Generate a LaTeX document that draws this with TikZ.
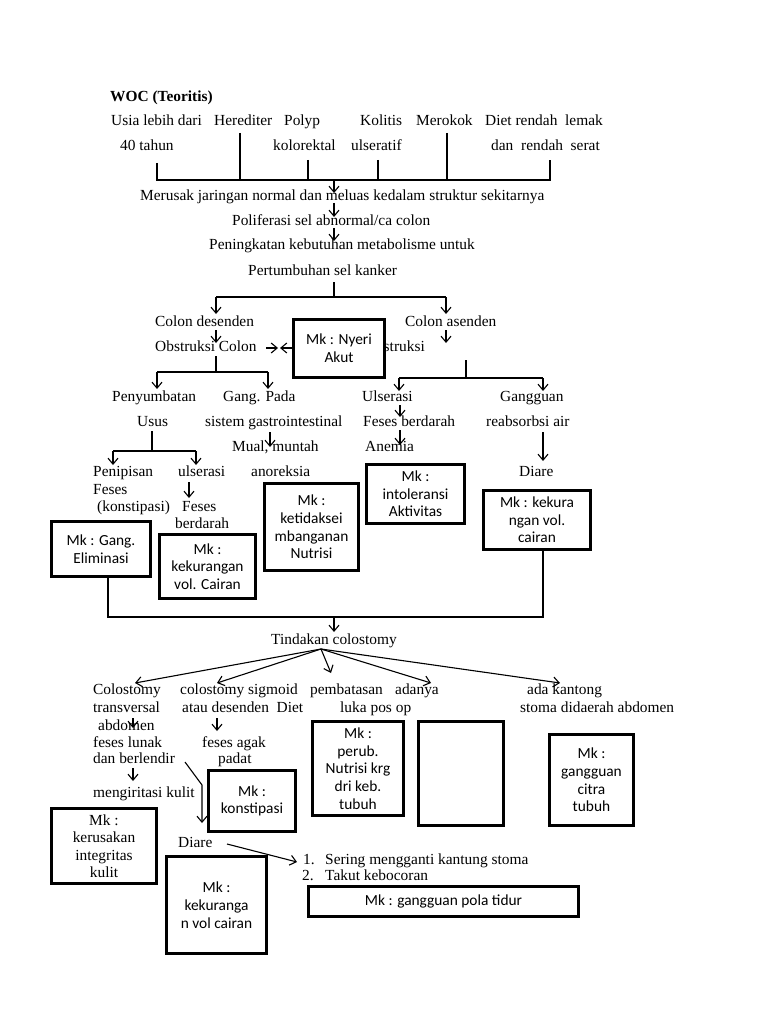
\documentclass[tikz,border=0pt]{standalone}
\usepackage{fontspec}
\setmainfont{Liberation Serif}
\newfontfamily\calib{Carlito}
\usetikzlibrary{arrows.meta}
\begin{document}
\begin{tikzpicture}[x=1pt,y=-1pt,
  t/.style={anchor=base west, inner sep=0pt, font=\fontsize{15.4}{17.5}\selectfont},
  tr/.style={anchor=base east, inner sep=0pt, font=\fontsize{15.4}{17.5}\selectfont},
  mk/.style={draw, line width=3pt, fill=white, align=center, inner sep=0pt, font=\calib\fontsize{15.4}{17.7}\selectfont},
  mks/.style={mk, font=\fontsize{15.4}{17.5}\selectfont},
  ln/.style={line width=1.1pt},
  ar/.style={line width=1.1pt, -{Straight Barb[length=6pt,width=10pt]}},
]
\useasboundingbox (0,0) rectangle (768,1024);
\fill[white] (0,0) rectangle (768,1024);

% ---------- texts ----------
\node[t, font=\bfseries\fontsize{15.4}{17.5}\selectfont] (title) at (110,101.5) {WOC (Teoritis)};
\node[t] (usia) at (111,125.5) {Usia lebih dari};
\node[t] (hered) at (214,125.5) {Herediter};
\node[t] (polyp) at (284,125.5) {Polyp};
\node[t] (kolitis) at (360,125.5) {Kolitis};
\node[t] (merokok) at (416,125.5) {Merokok};
\node[t] (diet) at (485,125.5) {Diet rendah\ \ lemak};
\node[t] (tahun) at (120,150.5) {40 tahun};
\node[t] (kolor) at (273,150.5) {kolorektal};
\node[t] (ulser) at (351,150.5) {ulseratif};
\node[t] (serat) at (491,150.5) {dan\ \ rendah\ \ serat};

\node[t] (merusak) at (140,200.5) {Merusak jaringan normal dan meluas kedalam struktur sekitarnya};
\node[t] (polif) at (232,225.5) {Poliferasi sel abnormal/ca colon};
\node[t] (pening) at (209,249.5) {Peningkatan kebutuhan metabolisme untuk};
\node[t] (pertum) at (248,275.5) {Pertumbuhan sel kanker};

\node[t] (cdes) at (155,326.5) {Colon desenden};
\node[t] (obsc) at (155,351.5) {Obstruksi Colon};
\node[tr] (obsr) at (425,351.5) {Obstruksi};
\node[t] (cas) at (405,326.5) {Colon asenden};

\node[t] (penyum) at (112,401.5) {Penyumbatan};
\node[t] (gang) at (223,401.5) {Gang. Pada};
\node[t] (ulsr) at (362,401.5) {Ulserasi};
\node[t] (ggg) at (500,401.5) {Gangguan};
\node[t] (usus) at (137,426.5) {Usus};
\node[t] (sistem) at (205,426.5) {sistem gastrointestinal};
\node[t] (fberd) at (363,426.5) {Feses berdarah};
\node[t] (reab) at (486,426.5) {reabsorbsi air};
\node[t] (mual) at (232,451.5) {Mual, muntah};
\node[t] (anemia) at (365,451.5) {Anemia};
\node[t] (penip) at (93,476.5) {Penipisan};
\node[t] (ulsr2) at (178,476.5) {ulserasi};
\node[t] (anor) at (251,476.5) {anoreksia};
\node[t] (diare1) at (519,476.5) {Diare};
\node[t] (feses1) at (93,494.5) {Feses};
\node[t] (konst) at (97,511.5) {(konstipasi)};
\node[t] (feses2) at (182,511.5) {Feses};
\node[t] (berd) at (175,528) {berdarah};

\node[t] (tind) at (271,644.5) {Tindakan colostomy};
\node[t] (colo1) at (93,694.5) {Colostomy};
\node[t] (colo2) at (180,694.5) {colostomy sigmoid};
\node[t] (pemb) at (310,694.5) {pembatasan};
\node[t] (adanya) at (395,694.5) {adanya};
\node[t] (kant) at (527,694.5) {ada kantong};
\node[t] (trans) at (93,712.5) {transversal};
\node[t] (atau) at (182,712.5) {atau desenden\ \ Diet};
\node[t] (luka) at (340,712.5) {luka pos op};
\node[t] (stoma) at (520,712.5) {stoma didaerah abdomen};
\node[t] (abdo) at (98,730.5) {abdomen};
\node[t] (flunak) at (93,747) {feses lunak};
\node[t] (berl) at (93,763.5) {dan berlendir};
\node[t] (fagak) at (202,747) {feses agak};
\node[t] (padat) at (218,763.5) {padat};
\node[t] (mengi) at (93,797) {mengiritasi kulit};
\node[t] (diare2) at (178,847.5) {Diare};
\node[t] (n1) at (303,864.5) {1.};
\node[t] (sering) at (325,864.5) {Sering mengganti kantung stoma};
\node[t] (n2) at (302,880.5) {2.};
\node[t] (takut) at (325,880.5) {Takut kebocoran};

% ---------- boxes ----------
\node[mk, minimum width=91pt, minimum height=58pt] (nyeri) at (339,348.5) {Mk : Nyeri\\Akut};
\node[mk, minimum width=99pt, minimum height=55pt] (elim) at (101,549) {Mk : Gang.\\Eliminasi};
\node[mk, minimum width=96pt, minimum height=64pt] (kek1) at (207.5,566.5) {Mk :\\kekurangan\\vol. Cairan};
\node[mk, minimum width=94pt, minimum height=87pt] (nutr) at (311.5,527) {Mk :\\ketidaksei\\mbanganan\\Nutrisi};
\node[mk, minimum width=98pt, minimum height=59pt] (intol) at (415.5,494) {Mk :\\intoleransi\\Aktivitas};
\node[mk, minimum width=107pt, minimum height=59pt] (kek2) at (537,520) {Mk : kekura\\ngan vol.\\cairan};
\node[mks, minimum width=105pt, minimum height=75pt] (rusak) at (104,846) {Mk :\\kerusakan\\integritas\\kulit};
\node[mk, minimum width=87pt, minimum height=61pt] (konsti) at (252,801) {Mk :\\konstipasi};
\node[mk, minimum width=91pt, minimum height=94pt] (perub) at (358,768.5) {Mk :\\perub.\\Nutrisi krg\\dri keb.\\tubuh};
\node[mk, minimum width=85pt, minimum height=104pt] (empty) at (461,773.5) {};
\node[mk, minimum width=84pt, minimum height=91pt] (citra) at (591.5,780) {Mk :\\gangguan\\citra\\tubuh};
\node[mk, minimum width=100pt, minimum height=97pt] (kek3) at (216.5,905) {Mk :\\kekuranga\\n vol cairan};
\node[mk, minimum width=270pt, minimum height=30pt] (pola) at (443.5,901.5) {Mk : gangguan pola tidur};

% ---------- coordinates ----------
\coordinate (c1) at (157,163); \coordinate (c2) at (240,133);
\coordinate (c3) at (308,160); \coordinate (c4) at (378,160);
\coordinate (c5) at (447,133); \coordinate (c6) at (550,160);
\coordinate (b1) at (157,180); \coordinate (b6) at (550,180);
\coordinate (m0) at (334,180); \coordinate (m1) at (334,193);
\coordinate (m2) at (334,203); \coordinate (m3) at (334,217);
\coordinate (m4) at (334,228); \coordinate (m5) at (334,241);
\coordinate (p0) at (334,282); \coordinate (p1) at (334,297);
\coordinate (pl) at (216,297); \coordinate (pr) at (446,297);
\coordinate (pld) at (216,314); \coordinate (prd) at (446,314);
\coordinate (d0) at (216,330); \coordinate (d1) at (216,343);
\coordinate (d2) at (216,356); \coordinate (d3) at (216,372);
\coordinate (dl) at (157,372); \coordinate (dr) at (268,372);
\coordinate (dld) at (157,389); \coordinate (drd) at (268,389);
\coordinate (ra0) at (266,348); \coordinate (ra1) at (278,348);
\coordinate (la0) at (292,348); \coordinate (la1) at (280,348);
\coordinate (e0) at (446,330); \coordinate (e1) at (446,343);
\coordinate (e2) at (466,360); \coordinate (e3) at (466,378);
\coordinate (el) at (399,378); \coordinate (er) at (543,378);
\coordinate (eld) at (399,391); \coordinate (erd) at (543,391);
\coordinate (u0) at (400,405); \coordinate (u1) at (400,417);
\coordinate (s0) at (270,432); \coordinate (s1) at (270,447);
\coordinate (f0) at (400,430); \coordinate (f1) at (400,445);
\coordinate (g0) at (543,432); \coordinate (g1) at (543,461);
\coordinate (h0) at (152,431); \coordinate (h1) at (152,451);
\coordinate (hl) at (113,451); \coordinate (hr) at (196,451);
\coordinate (hld) at (113,465); \coordinate (hrd) at (196,465);
\coordinate (k0) at (189,482); \coordinate (k1) at (189,498);
\coordinate (q0) at (108,578); \coordinate (q1) at (108,617);
\coordinate (q2) at (543,617); \coordinate (q3) at (543,551);
\coordinate (t0) at (334,617); \coordinate (t1) at (334,632);
\coordinate (fan) at (321,649);
\coordinate (f1t) at (135,683); \coordinate (f2t) at (217,683);
\coordinate (f3t) at (331,673); \coordinate (f4t) at (431,683);
\coordinate (f5t) at (560,683);
\coordinate (v0) at (133,718); \coordinate (v1) at (133,728);
\coordinate (w0) at (217,718); \coordinate (w1) at (217,731);
\coordinate (x0) at (133,768); \coordinate (x1) at (133,781);
\coordinate (y0) at (185,762); \coordinate (y1) at (202,785); \coordinate (y2) at (202,823);
\coordinate (z0) at (227,844); \coordinate (z1) at (297,862);

% ---------- connectors ----------
\draw[ln] (c1) -- (b1) -- (b6) -- (c6);
\draw[ln] (c2) -- (c2 |- b1);
\draw[ln] (c3) -- (c3 |- b1);
\draw[ln] (c4) -- (c4 |- b1);
\draw[ln] (c5) -- (c5 |- b1);
\draw[ar] (m0) -- (m1);
\draw[ar] (m2) -- (m3);
\draw[ar] (m4) -- (m5);
\draw[ln] (p0) -- (p1);
\draw[ln] (pl) -- (pr);
\draw[ar] (pl) -- (pld);
\draw[ar] (pr) -- (prd);
\draw[ar] (d0) -- (d1);
\draw[ln] (d2) -- (d3);
\draw[ln] (dl) -- (dr);
\draw[ar] (dl) -- (dld);
\draw[ar] (dr) -- (drd);
\draw[ar] (ra0) -- (ra1);
\draw[ar] (la0) -- (la1);
\draw[ar] (e0) -- (e1);
\draw[ln] (e2) -- (e3);
\draw[ln] (el) -- (er);
\draw[ar] (el) -- (eld);
\draw[ar] (er) -- (erd);
\draw[ar] (u0) -- (u1);
\draw[ar] (s0) -- (s1);
\draw[ar] (f0) -- (f1);
\draw[ar] (g0) -- (g1);
\draw[ln] (h0) -- (h1);
\draw[ln] (hl) -- (hr);
\draw[ar] (hl) -- (hld);
\draw[ar] (hr) -- (hrd);
\draw[ar] (k0) -- (k1);
\draw[ln] (q0) -- (q1) -- (q2) -- (q3);
\draw[ar] (t0) -- (t1);
\draw[ar] (fan) -- (f1t);
\draw[ar] (fan) -- (f2t);
\draw[ar] (fan) -- (f3t);
\draw[ar] (fan) -- (f4t);
\draw[ar] (fan) -- (f5t);
\draw[ar] (v0) -- (v1);
\draw[ar] (w0) -- (w1);
\draw[ar] (x0) -- (x1);
\draw[ar] (y0) -- (y1) -- (y2);
\draw[ar] (z0) -- (z1);
\end{tikzpicture}
\end{document}
